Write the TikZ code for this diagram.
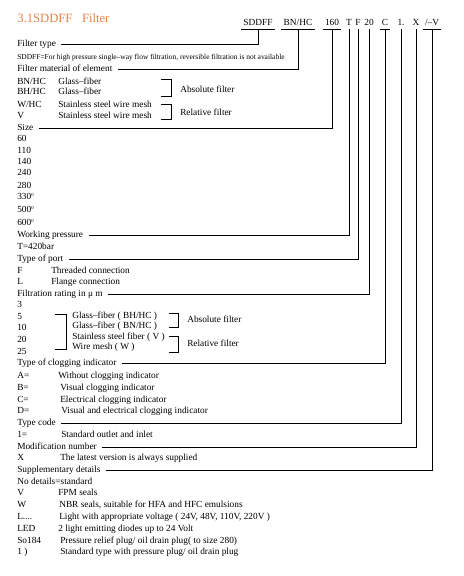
\documentclass[tikz,border=0pt]{standalone}
\usepackage{fontspec}
\setmainfont{Liberation Serif}
\usepackage{tikz}
\usetikzlibrary{positioning}
\definecolor{titleorange}{RGB}{232,128,72}
\newcommand{\degsup}{\raisebox{2.5pt}{\fontsize{3.5}{4}\selectfont 0}}
\tikzstyle{lbl}=[anchor=west,inner sep=0pt,text height=5pt,text depth=1.5pt,font=\fontsize{7}{8}\selectfont]
\tikzstyle{code}=[inner sep=1.5pt,text height=5pt,text depth=1pt,font=\fontsize{7}{8}\selectfont]
\tikzstyle{conn}=[draw,line width=0.7pt,shorten <=4pt]
\tikzstyle{brk}=[draw,line width=0.7pt]
\tikzstyle{uline}=[line width=0.8pt]

\begin{document}
\begin{tikzpicture}[x=0.75pt,y=-0.75pt]
    \useasboundingbox (0,0) rectangle (464,576);
    \node[lbl,text=titleorange,font=\fontsize{9.5}{11}\selectfont] (title) at (17,20) {3.1SDDFF\ \ \ Filter};

    % type code header
    \foreach \x/\name/\val in {258/sddff/SDDFF, 298/bnhc/{BN/HC}, 332/csize/160,
    349/cpress/T, 358/cport/F, 369/crate/20, 385/cclog/C, 401/ctype/1{.},
    416/cmod/X, 432/csupp/{/–V}}
        \node[code] (\name) at (\x,23) {\val};
    \foreach \cd in {sddff,bnhc,csize,cclog,csupp}
        \draw[uline] (\cd.south west) -- (\cd.south east);

    % first column
    \foreach \y/\name/\val in {44/ftype/Filter type, 69/fmat/Filter material of element,
    82/mbn/{BN/HC}, 92/mbh/{BH/HC}, 105/mw/{W/HC}, 116/mv/V, 128/size/Size,
    139/s60/60, 151/s110/110, 162/s140/140, 173/s240/240, 186/s280/280,
    197/s330/330\degsup, 210/s500/500\degsup, 223/s600/600\degsup,
    235/press/Working pressure, 247/t420/T=420bar, 259/port/Type of port,
    271/pf/F, 282/pl/L, 294/rate/Filtration rating in μ m,
    305/r3/3, 317/r5/5, 328/r10/10, 340/r20/20, 352/r25/25,
    363/clog/Type of clogging indicator, 376/ca/A=, 388/cb/B=, 400/cc/C=, 411/cd/D=,
    423/type/Type code, 435/t1/1=, 447/mod/Modification number, 458/mx/X,
    470/supp/Supplementary details, 482/nodet/No details=standard,
    493/xv/V, 505/xw/W, 517/xl/L{.}{.}{.}{.}, 529/xled/LED, 541/xso/So184, 552/xone/1 )}
        \node[lbl] (\name) at (17,\y) {\val};
    \node[lbl,font=\fontsize{5.6}{7}\selectfont] (note) at (17,57)
        {SDDFF=For high pressure single–way flow filtration, reversible filtration is not available};

    % second column
    \foreach \x/\y/\name/\val in {58/82/gf1/Glass–fiber, 58/92/gf2/Glass–fiber,
    58/105/sw1/Stainless steel wire mesh, 58/116/sw2/Stainless steel wire mesh,
    51/271/pft/Threaded connection, 51/282/plf/Flange connection,
    72/316/ra/{Glass–fiber ( BH/HC )}, 72/326/rb/{Glass–fiber ( BN/HC )},
    72/337/rc/Stainless steel fiber ( V ), 72/347/rd/Wire mesh ( W ),
    58/376/caw/Without clogging indicator, 60/388/cbv/Visual clogging indicator,
    60/400/cce/Electrical clogging indicator, 61/411/cdv/Visual and electrical clogging indicator,
    61/435/t1s/Standard outlet and inlet, 60/458/mxl/The latest version is always supplied,
    58/493/xvf/FPM seals, 59/505/xwn/{NBR seals, suitable for HFA and HFC emulsions},
    59/517/xll/{Light with appropriate voltage ( 24V, 48V, 110V, 220V )},
    58/529/xledd/2 light emitting diodes up to 24 Volt,
    60/541/xsop/{Pressure relief plug/ oil drain plug( to size 280)},
    60/552/xonep/{Standard type with pressure plug/ oil drain plug}}
        \node[lbl] (\name) at (\x,\y) {\val};

    % brackets and their labels
    \path[brk] (161,79) -- (171,79) -- (171,96) -- (161,96);
    \path[brk] (161,104) -- (171,104) -- (171,119) -- (161,119);
    \path[brk] (55,314) -- (66,314) -- (66,349) -- (55,349);
    \path[brk] (169,313) -- (178,313) -- (178,327) -- (169,327);
    \path[brk] (169,336) -- (178,336) -- (178,352) -- (169,352);
    \node[lbl] (abs1) at (180,90) {Absolute filter};
    \node[lbl] (rel1) at (180,113) {Relative filter};
    \node[lbl] (abs2) at (187,320) {Absolute filter};
    \node[lbl] (rel2) at (187,344) {Relative filter};

    % connectors from headings to the code
    \foreach \source/\dest in {ftype/sddff, fmat/bnhc, size/csize, press/cpress,
    port/cport, rate/crate, clog/cclog, type/ctype, mod/cmod, supp/csupp}
        \path[conn] (\source.east) -| (\dest.south);
\end{tikzpicture}
\end{document}
